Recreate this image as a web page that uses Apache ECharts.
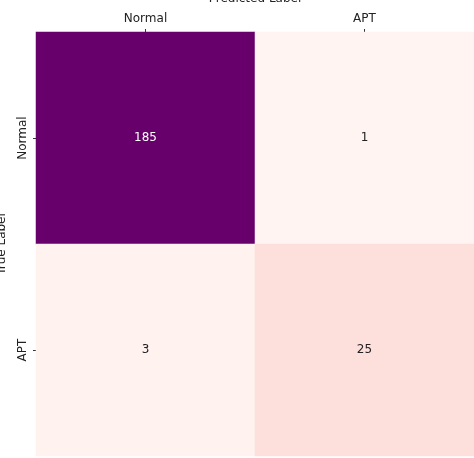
<!DOCTYPE html><html><head><meta charset="utf-8"><script src="https://cdn.jsdelivr.net/npm/echarts@6/dist/echarts.min.js"></script></head><body style="margin:0"><div id="c" style="width:474px;height:458px"></div><script>
const predLabels=['Normal','APT'];
const trueLabels=['Normal','APT'];
const values=[[185,1],[3,25]];
const data=[];
values.forEach((r,i)=>r.forEach((v,j)=>data.push([j,i,v])));
const ch=echarts.init(document.getElementById('c'));
const font='DejaVu Sans';
ch.setOption({
 animation:false,
 grid:{left:36,right:0,top:32,bottom:2,containLabel:false,outerBoundsMode:'none'},
 xAxis:{type:'category',position:'top',data:predLabels,name:'Predicted Label',nameLocation:'middle',nameGap:27,
  nameTextStyle:{color:'#222',fontSize:12,fontFamily:font},axisLine:{show:false},axisTick:{show:true,alignWithLabel:true,length:3,lineStyle:{color:'#333'}},
  axisLabel:{color:'#222',fontSize:12,fontFamily:font,margin:7},splitLine:{show:false}},
 yAxis:{type:'category',inverse:true,data:trueLabels,name:'True Label',nameLocation:'middle',nameGap:28,
  nameTextStyle:{color:'#222',fontSize:12,fontFamily:font},axisLine:{show:false},axisTick:{show:true,alignWithLabel:true,length:3,lineStyle:{color:'#333'}},
  axisLabel:{color:'#222',fontSize:12,fontFamily:font,rotate:90,margin:7},splitLine:{show:false}},
 visualMap:{show:false,min:1,max:185,dimension:2,inRange:{color:['#fff4f1','#fde0dd','#fcc5c0','#fa9fb5','#f768a1','#dd3497','#ae017e','#7a0177','#67006a']}},
 series:[{type:'heatmap',data:data.map(d=>({value:d,label:{color:d[2]>100?'#fff':'#222'}})),
  label:{show:true,fontSize:12,fontFamily:font,formatter:p=>p.value[2]},itemStyle:{borderWidth:0}}]
});
</script></body></html>
